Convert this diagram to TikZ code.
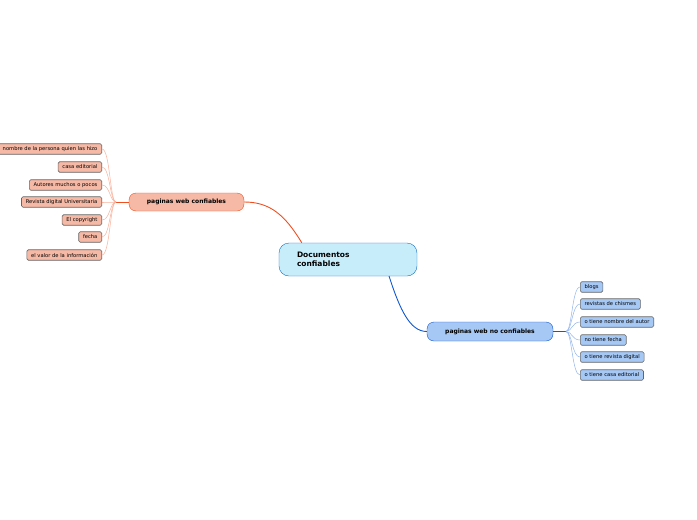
\documentclass[tikz,border=0pt]{standalone}
\usepackage{fontspec}
\setmainfont{DejaVu Sans}
\definecolor{lfill}{HTML}{F6B9A6}
\definecolor{rfill}{HTML}{A6C8F5}
\definecolor{lline}{HTML}{F05020}
\definecolor{rline}{HTML}{1058D0}
\begin{document}
\begin{tikzpicture}[x=1pt,y=-1pt,
 leafL/.style={draw=black!60,line width=0.6pt,fill=lfill,rounded corners=1.5pt,font=\fontsize{5.2}{6}\selectfont,inner xsep=4.3pt,minimum height=10.5pt,inner ysep=0pt,anchor=east},
 leafR/.style={draw=black!60,line width=0.6pt,fill=rfill,rounded corners=1.5pt,font=\fontsize{5.2}{6}\selectfont,inner xsep=4.3pt,minimum height=10.5pt,inner ysep=0pt,anchor=west},
 linkL/.style={draw=lline!45,line width=0.5pt},
 linkR/.style={draw=rline!45,line width=0.5pt}]
\useasboundingbox (0,0) rectangle (697,520);
\node[draw=cyan!50!blue,fill=cyan!22,rounded corners=10pt,minimum width=138pt,minimum height=33pt,font=\bfseries\fontsize{7.5}{8.5}\selectfont,align=left,text width=102pt,xshift=0pt] (c) at (348,259.5) {Documentos\\confiables};
\node[draw=lline,fill=lfill,rounded corners=7pt,minimum width=115pt,minimum height=18pt,font=\bfseries\fontsize{6}{7}\selectfont] (l) at (186.5,202) {paginas web confiables};
\node[draw=rline,fill=rfill,rounded corners=7pt,minimum width=126pt,minimum height=19pt,font=\bfseries\fontsize{6}{7}\selectfont] (r) at (490,331.5) {paginas web no confiables};
\draw[lline,line width=0.9pt] (c.north west)++(23,0) coordinate (c1) (c1) .. controls (285,215) and (270,202) .. (l.east);
\draw[rline,line width=0.9pt] (389,276) coordinate (c2) (c2) .. controls (400,310) and (410,331.5) .. (r.west);
\coordinate (lj) at (116,202);
\coordinate (rj) at (566,331.5);
\draw[lline,line width=0.8pt] (l.west) -- (lj);
\draw[rline,line width=0.8pt] (r.east) -- (rj);
\foreach \t/\y [count=\i] in {nombre de la persona quien las hizo/149,casa editorial/167,Autores muchos o pocos/185,Revista digital Universitaria/202,El copyright/220,fecha/237,el valor de la información/255}{
 \node[leafL] (L\i) at (102,\y) {\t};
 \draw[linkL] (lj) .. controls (110,202) and (110,\y) .. (L\i.east);
}
\foreach \t/\y [count=\i] in {blogs/287,revistas de chismes/304,o tiene nombre del autor/322,no tiene fecha/340,o tiene revista digital/357,o tiene casa editorial/375}{
 \node[leafR] (R\i) at (580,\y) {\t};
 \draw[linkR] (rj) .. controls (572,331.5) and (572,\y) .. (R\i.west);
}
\end{tikzpicture}
\end{document}
